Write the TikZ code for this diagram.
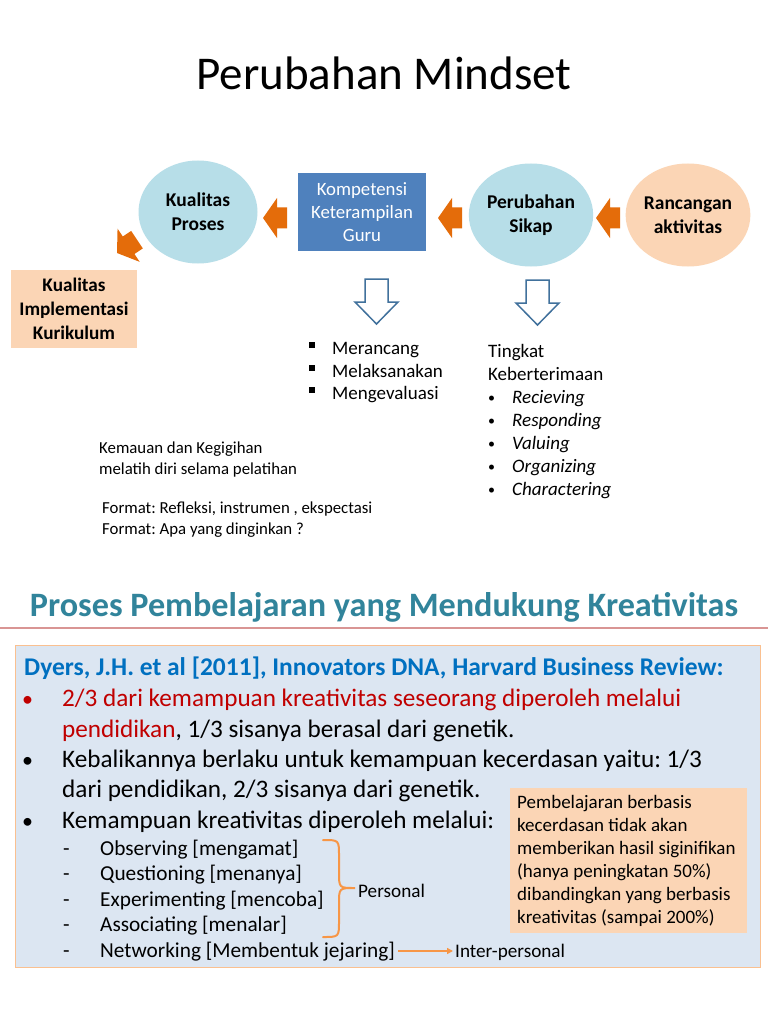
\documentclass[tikz,border=0pt]{standalone}
\usepackage{fontspec}
\setmainfont{Carlito}
\usetikzlibrary{shapes.geometric,arrows.meta,calc}
\definecolor{lblue}{HTML}{B7DEE8}
\definecolor{peach}{HTML}{FBD5B5}
\definecolor{kblue}{HTML}{4F81BD}
\definecolor{arrorange}{HTML}{E46C0A}
\definecolor{arrblue}{HTML}{41719C}
\definecolor{teal}{HTML}{31849B}
\definecolor{redline}{HTML}{D99594}
\definecolor{boxfill}{HTML}{DCE6F2}
\definecolor{boxborder}{HTML}{FAC090}
\definecolor{darkred}{HTML}{C00000}
\definecolor{dyblue}{HTML}{0070C0}
\definecolor{braceorange}{HTML}{F79646}
\newcommand{\fs}[2]{\fontsize{#1}{#2}\selectfont}
\newcommand{\smbul}{{\fontsize{14}{14}\selectfont\textbullet}}
\tikzset{
  txt/.style={inner sep=0pt, anchor=base west},
  body/.style={txt, font=\fs{25.2}{30}},
  ellnode/.style={ellipse, inner sep=0pt, align=center, font=\fs{19.5}{24}\bfseries},
  blockarr/.pic={\fill[arrorange] (0,0) -- (14,-20) -- (14,-10.5) -- (24,-10.5) -- (24,10.5) -- (14,10.5) -- (14,20) -- cycle;},
  hollowdown/.pic={\draw[arrblue, line width=1.5pt, fill=white, line join=miter] (-11.5,0) -- (11.5,0) -- (11.5,23) -- (21.5,23) -- (0,45) -- (-21.5,23) -- (-11.5,23) -- cycle;}
}
\begin{document}
\frenchspacing
\begin{tikzpicture}[x=1pt,y=-1pt]
\useasboundingbox (0,0) rectangle (768,1024);
\fill[white] (0,0) rectangle (768,1024);

% Title
\node[inner sep=0pt, anchor=base, font=\fs{47}{56}] (title) at (384,90) {Perubahan Mindset};

% top diagram
\node[ellnode, fill=lblue, minimum width=119pt, minimum height=103pt] (kp) at (198,212) {Kualitas\\Proses};
\node[rectangle, fill=kblue, minimum width=128pt, minimum height=78pt, inner sep=0pt, text=white, align=center, font=\fs{18.8}{23}] (kk) at (362,212) {Kompetensi\\Keterampilan\\Guru};
\node[ellnode, fill=lblue, minimum width=116pt, minimum height=103pt] (ps) at (531,215) {Perubahan\\Sikap};
\node[ellnode, fill=peach, minimum width=112pt, minimum height=103pt] (ra) at (688,215) {Rancangan\\aktivitas};
\node[rectangle, fill=peach, minimum width=126pt, minimum height=78pt, inner sep=0pt, align=center, font=\fs{19.2}{24}\bfseries] (ki) at (74,309) {Kualitas\\Implementasi\\Kurikulum};

\pic at (263,218) {blockarr};
\pic at (438,218) {blockarr};
\pic at (596,218) {blockarr};
\pic[rotate=33.7] at (117,253) {blockarr};

\pic at (376.5,279) {hollowdown};
\pic at (537.5,280) {hollowdown};

% list 1
\foreach \yy/\tt [count=\i] in {354/Merancang,377/Melaksanakan,399/Mengevaluasi}{
  \fill (309,\yy-12) rectangle (315,\yy-6);
  \node[txt, font=\fs{19}{23}] (la\i) at (332,\yy) {\tt};
}
% list 2
\node[txt, font=\fs{19}{23}] (ting) at (488,357) {Tingkat};
\node[txt, font=\fs{19}{23}] (kebe) at (488,380) {Keberterimaan};
\foreach \yy/\tt [count=\i] in {403/Recieving,426/Responding,449/Valuing,472/Organizing,495/Charactering}{
  \node[txt] (bb\i) at (488,\yy-1) {\smbul};
  \node[txt, font=\fs{19}{23}\itshape] (lb\i) at (512,\yy) {\tt};
}

% notes
\node[txt, font=\fs{16.8}{21}] (n1) at (99,453) {Kemauan dan Kegigihan};
\node[txt, font=\fs{16.8}{21}] (n2) at (99,474) {melatih diri selama pelatihan};
\node[txt, font=\fs{16.8}{21}] (n3) at (102,513) {Format: Refleksi, instrumen , ekspectasi};
\node[txt, font=\fs{16.8}{21}] (n4) at (102,534) {Format: Apa yang dinginkan ?};

% second section
\node[inner sep=0pt, anchor=base, font=\fs{34.2}{40}\bfseries, text=teal] (title2) at (384,616) {Proses Pembelajaran yang Mendukung Kreativitas};
\draw[redline, line width=2pt] (0,628) -- (768,628);
\draw[boxborder, fill=boxfill, line width=1pt] (15,645) rectangle (760,967);

\node[txt, font=\fs{25.5}{30}\bfseries, text=dyblue] (dy) at (24,675) {Dyers, J.H. et al [2011], Innovators DNA, Harvard Business Review:};
\node[txt, font=\fs{22}{28}, text=darkred] (b1) at (22,706) {\textbullet};
\node[body, text=darkred] (t1) at (62,706) {2/3 dari kemampuan kreativitas seseorang diperoleh melalui};
\node[body] (t1b) at (62,737) {\textcolor{darkred}{pendidikan}, 1/3 sisanya berasal dari genetik.};
\node[txt, font=\fs{22}{28}] (b2) at (22,767) {\textbullet};
\node[body] (t2) at (62,767) {Kebalikannya berlaku untuk kemampuan kecerdasan yaitu: 1/3};
\node[body] (t2b) at (62,797) {dari pendidikan, 2/3 sisanya dari genetik.};
\node[txt, font=\fs{22}{28}] (b3) at (22,828) {\textbullet};
\node[body] (t3) at (62,828) {Kemampuan kreativitas diperoleh melalui:};

\foreach \yy/\tt [count=\i] in {855/Observing [mengamat],880/Questioning [menanya],906/Experimenting [mencoba],931/Associating [menalar],957/Networking [Membentuk jejaring]}{
  \node[txt, font=\fs{21.3}{24}] (d\i) at (63,\yy) {-};
  \node[txt, font=\fs{21.3}{24}] (it\i) at (100,\yy) {\tt};
}

% brace
\draw[braceorange, line width=2pt, line cap=round] (323,840) .. controls (339,840) .. (339,856) -- (339,872) .. controls (339,888) .. (355,888) .. controls (339,888) .. (339,904) -- (339,921) .. controls (339,937) .. (323,937);
\node[txt, font=\fs{19.2}{22}] (pers) at (358,897) {Personal};

\node[txt, font=\fs{19.2}{22}] (inter) at (455,957) {Inter-personal};
\draw[braceorange, line width=1.6pt, -{Triangle[length=6pt,width=6pt]}] ($(it5.base east)+(3,-6)$) -- ($(inter.base west)+(-2,-6)$);

% note box
\node[fill=peach, anchor=north west, minimum width=237pt, minimum height=145pt, inner sep=0pt] (notebox) at (510,788) {};
\node[anchor=north west, inner sep=0pt, align=left, font=\fs{19}{23}] (notetext) at (517,795) {Pembelajaran berbasis\\kecerdasan tidak akan\\memberikan hasil siginifikan\\(hanya peningkatan 50\%)\\dibandingkan yang berbasis\\kreativitas (sampai 200\%)};
\end{tikzpicture}
\end{document}
